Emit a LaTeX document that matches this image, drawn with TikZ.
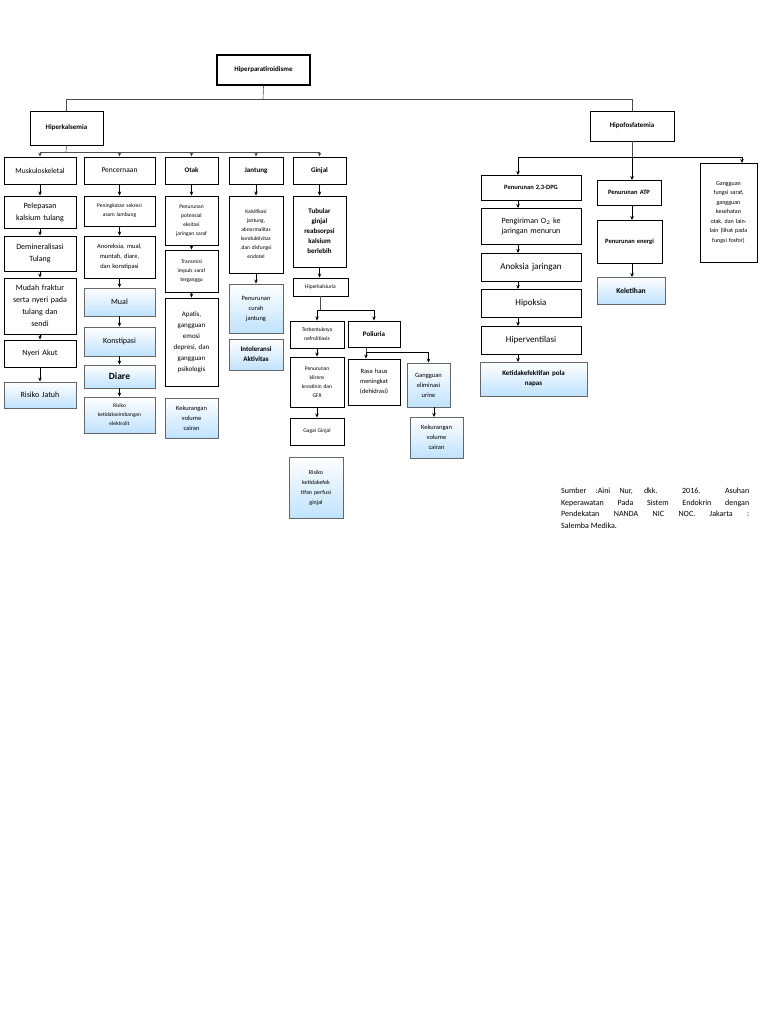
\documentclass[tikz,border=0pt]{standalone}
\usepackage{fontspec}
\setmainfont{Carlito}
\usetikzlibrary{arrows.meta}
\hyphenpenalty=10000 \exhyphenpenalty=10000
\newcommand\mybx[7]{%
 \pgfmathsetmacro\bw{#5-#3}\pgfmathsetmacro\bh{#6-#4}%
 \pgfmathsetmacro\cx{(#3+#5)/2}\pgfmathsetmacro\cy{(#4+#6)/2}%
 \node[#2,minimum width=\bw pt,minimum height=\bh pt,text width=\bw pt-4pt] (#1) at (\cx,\cy) {#7};}
\tikzset{
 box/.style={draw,line width=0.9pt,align=center,inner sep=1pt,font=\fontsize{7}{9}\selectfont},
 sm/.style={font=\fontsize{5.5}{9}\selectfont},
 md/.style={font=\fontsize{8}{12}\selectfont},
 bb/.style={font=\fontsize{7}{10}\bfseries\selectfont},
 blu/.style={box,draw=gray!80!black,top color=white,bottom color=blue!45!cyan!25},
 arr/.style={-{Stealth[length=4pt,width=3.5pt]},line width=0.7pt},
 ln/.style={line width=0.6pt,gray!60!black}
}
\begin{document}
\begin{tikzpicture}[x=1pt,y=-1pt]
\useasboundingbox (0,0) rectangle (768,1024);
\mybx{top}{box,line width=2pt,bb}{217}{55}{310}{85}{Hiperparatiroidisme}
\mybx{hk}{box,bb}{30}{111}{103}{145}{Hiperkalsemia}
\mybx{hf}{box,bb}{590}{111}{674}{141}{Hipofosfatemia}
\coordinate (j0) at (263,99);
\draw[ln] (top.south) -- (j0);
\draw[ln] (j0) -| (hk.north);
\draw[ln] (j0) -| (hf.north);
% row 1
\mybx{mus}{box,font=\fontsize{7.5}{9}\selectfont}{4}{157}{76}{184}{Muskuloskeletal}
\mybx{pen}{box,font=\fontsize{7.5}{9}\selectfont}{84}{157}{155}{184}{Pencernaan}
\mybx{ota}{box,bb}{165}{157}{218}{184}{Otak}
\mybx{jan}{box,bb}{229}{157}{283}{184}{Jantung}
\mybx{gin}{box,bb}{293}{157}{346}{184}{Ginjal}
\coordinate (j1) at (66,152);
\draw[ln] (hk.south) -- (j1);
\foreach \n in {mus,pen,ota,jan,gin}{\draw[arr,ln] (j1) -| (\n.north);}
% musk column
\mybx{m1}{box,md}{4}{196}{76}{228}{Pelepasan\\kalsium tulang}
\mybx{m2}{box,md}{4}{236}{76}{271}{Demineralisasi\\Tulang}
\mybx{m3}{box,md}{4}{278}{76}{334}{Mudah fraktur\\serta nyeri pada\\tulang dan\\sendi}
\mybx{m4}{box,md}{4}{340}{76}{367}{Nyeri Akut}
\mybx{m5}{blu,md}{4}{382}{76}{408}{Risiko Jatuh}
\draw[arr] (mus) -- (m1); \draw[arr] (m1) -- (m2); \draw[arr] (m2) -- (m3);
\draw[arr] (m3) -- (m4); \draw[arr] (m4) -- (m5);
% pencernaan column
\mybx{p1}{box,sm}{84}{196}{155}{226}{Peningkatan sekresi\\asam lambung}
\mybx{p2}{box,font=\fontsize{6.5}{10}\selectfont}{84}{236}{155}{278}{Anoreksia, mual,\\muntah, diare,\\dan konstipasi}
\mybx{p3}{blu,md}{84}{288}{155}{316}{Mual}
\mybx{p4}{blu,md}{84}{327}{155}{356}{Konstipasi}
\mybx{p5}{blu,font=\fontsize{9.5}{11}\bfseries\selectfont}{84}{365}{155}{388}{Diare}
\mybx{p6}{blu,sm}{84}{397}{155}{433}{Risiko\\ketidakseimbangan\\elektrolit}
\draw[arr] (pen) -- (p1); \draw[arr] (p1) -- (p2); \draw[arr] (p2) -- (p3);
\draw[arr] (p3) -- (p4); \draw[arr] (p4) -- (p5); \draw[arr] (p5) -- (p6);
% otak column
\mybx{o1}{box,sm}{165}{196}{218}{245}{Penurunan\\potensial\\eksitasi\\jaringan saraf}
\mybx{o2}{box,sm}{165}{250}{218}{292}{Transmisi\\impuls saraf\\terganggu}
\mybx{o3}{box,font=\fontsize{7}{11}\selectfont}{165}{298}{218}{386}{Apatis,\\gangguan\\emosi\\depresi, dan\\gangguan\\psikologis}
\mybx{o4}{blu,font=\fontsize{6.5}{10}\selectfont}{165}{398}{218}{438}{Kekurangan\\volume\\cairan}
\draw[arr] (ota) -- (o1); \draw[arr] (o1) -- (o2); \draw[arr] (o2) -- (o3);
% jantung column
\mybx{a1}{box,sm}{229}{196}{283}{273}{Kalsifikasi\\jantung,\\abnormalitas\\konduktivitas\\,dan disfungsi\\endotel}
\mybx{a2}{blu,font=\fontsize{6.5}{10}\selectfont}{229}{284}{283}{333}{Penurunan\\curah\\jantung}
\mybx{a3}{blu,bb}{229}{339}{283}{370}{Intoleransi\\Aktivitas}
\draw[arr] (jan) -- (a1); \draw[arr] (a1) -- (a2);
% ginjal column
\mybx{g1}{box,bb}{293}{196}{346}{267}{Tubular\\ginjal\\reabsorpsi\\kalsium\\berlebih}
\mybx{g2}{box,sm}{293}{278}{348}{296}{Hiperkalsiuria}
\mybx{g3}{box,sm}{290}{321}{344}{348}{Terbentuknya\\nefrolitiasis}
\mybx{g4}{box,bb}{348}{321}{400}{347}{Poliuria}
\mybx{g5}{box,sm}{290}{357}{344}{407}{Penurunan\\klirens\\kreatinin dan\\GFR}
\mybx{g6}{box,sm}{290}{418}{344}{445}{Gagal Ginjal}
\mybx{g7}{blu,font=\fontsize{6}{10}\selectfont}{289}{457}{343}{518}{Risiko\\ketidakefek\\tifan perfusi\\ginjal}
\mybx{g8}{box,font=\fontsize{6.5}{10}\selectfont}{348}{359}{400}{405}{Rasa haus\\meningkat\\(dehidrasi)}
\mybx{g9}{blu,font=\fontsize{6.5}{10}\selectfont}{407}{363}{450}{407}{Gangguan\\eliminasi\\urine}
\mybx{g10}{blu,font=\fontsize{6.5}{10}\selectfont}{410}{417}{463}{458}{Kekurangan\\volume\\cairan}
\draw[arr] (gin) -- (g1); \draw[arr] (g1.south) -- (g1.south|-g2.north);
\coordinate (j2) at (320,310);
\draw[ln] (g2.south-|j2) -- (j2);
\draw[arr] (j2) -| (g3.north); \draw[arr] (j2) -| (g4.north);
\draw[arr] (g3) -- (g5); \draw[arr] (g5) -- (g6);
\coordinate (j3) at (366,352);
\draw[ln] (g4.south-|j3) -- (j3);
\draw[arr] (j3) -- (j3|-g8.north); \draw[arr] (j3) -| (g9.north);
\draw[arr] (g9.south-|434,0) -- (434,417);
% hipofosfatemia
\coordinate (j4) at (632,157);
\draw[ln] (hf.south) -- (j4);
\mybx{h1}{box,bb,font=\fontsize{6.5}{9}\bfseries\selectfont}{481}{175}{581}{200}{Penurunan 2,3-DPG}
\mybx{h2}{box,bb,font=\fontsize{6.5}{9}\bfseries\selectfont}{597}{180}{661}{205}{Penurunan ATP}
\mybx{h3}{box,sm,font=\fontsize{6}{9.5}\selectfont}{700}{163}{757}{262}{Gangguan\\fungsi saraf,\\gangguan\\kesehatan\\otak, dan lain-\\lain (lihat pada\\fungsi fosfor)}
\draw[arr] (j4) -| (518,175);
\draw[arr] (j4) -- (632,180);
\draw[arr] (j4) -| (742,163);
\mybx{h4}{box,font=\fontsize{8}{10}\selectfont}{481}{208}{581}{244}{Pengiriman O$_2$ ke\\jaringan menurun}
\mybx{h5}{box,font=\fontsize{9}{12}\selectfont}{481}{253}{581}{281}{Anoksia jaringan}
\mybx{h6}{box,font=\fontsize{9}{12}\selectfont}{481}{289}{581}{317}{Hipoksia}
\mybx{h7}{box,font=\fontsize{9}{12}\selectfont}{481}{326}{581}{354}{Hiperventilasi}
\mybx{h8}{blu,bb}{480}{362}{587}{396}{Ketidakefektifan pola\\napas}
\draw[arr] (h1.south-|518,0) -- (518,208);
\draw[arr] (h4.south-|518,0) -- (518,253);
\draw[arr] (h5.south-|518,0) -- (518,289);
\draw[arr] (h6.south-|518,0) -- (518,326);
\draw[arr] (h7.south-|518,0) -- (518,362);
\mybx{h9}{box,bb,font=\fontsize{6.5}{9}\bfseries\selectfont}{597}{220}{662}{263}{Penurunan energi}
\mybx{h10}{blu,bb,font=\fontsize{7.5}{9}\bfseries\selectfont}{597}{277}{665}{304}{Keletihan}
\draw[arr] (h2.south-|632,0) -- (632,220);
\draw[arr] (h9.south-|632,0) -- (632,277);
% source
\node[anchor=north west,text width=188pt,align=justify,inner sep=0pt,font=\fontsize{8}{11.5}\selectfont] (src) at (561,488)
 {Sumber :Aini Nur, dkk. 2016. Asuhan\linebreak Keperawatan Pada Sistem Endokrin dengan\linebreak Pendekatan NANDA NIC NOC. Jakarta :\linebreak Salemba Medika.};
\end{tikzpicture}
\end{document}
